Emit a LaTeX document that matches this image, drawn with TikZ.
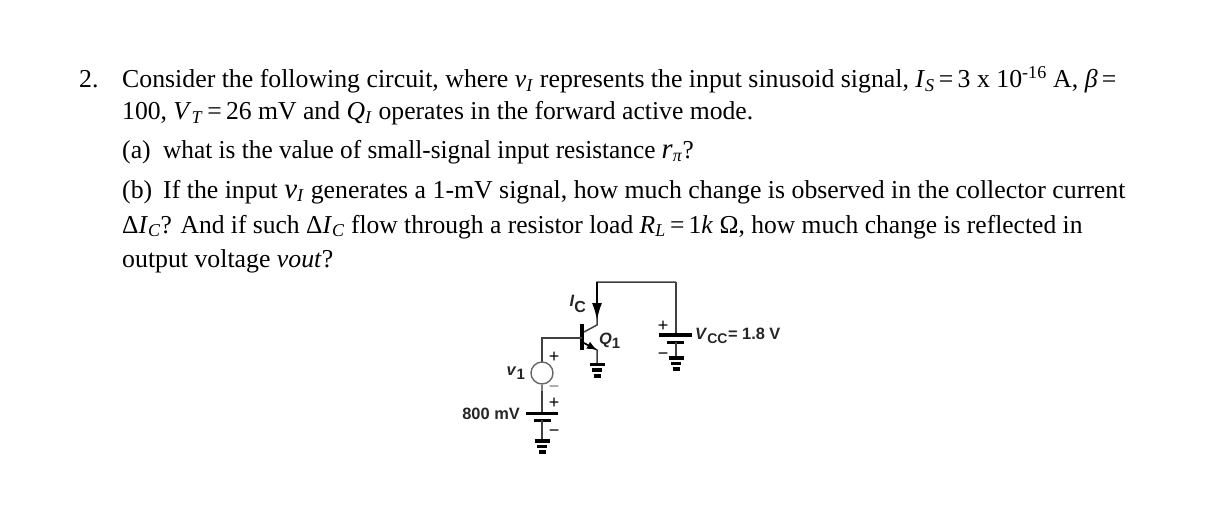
\documentclass[tikz,border=0pt]{standalone}
\usepackage{fontspec}
\setmainfont{Liberation Serif}
\setsansfont{Liberation Sans}
\usetikzlibrary{arrows.meta}
\newcommand{\sbi}[1]{\textsubscript{\textit{#1}}}
\tikzset{
  txt/.style={anchor=base west,inner sep=0pt,font=\fontsize{25.8}{30}\selectfont},
  lbl/.style={inner sep=0pt,font=\sffamily\bfseries\fontsize{16.4}{18}\selectfont,text=black!85},
  sgn/.style={inner sep=0pt,font=\sffamily\fontsize{18}{18}\selectfont},
  wire/.style={line width=1.5pt,black!75},
  plate/.style={line width=3.4pt,black},
  thinplate/.style={line width=3pt,black},
  tip/.style={-{Latex[length=17pt,width=10pt]}},
  groundsym/.pic={
    \draw[line width=3.3pt] (-7.5,0) -- (7.5,0);
    \draw[line width=3.3pt] (-5,5.5) -- (5,5.5);
    \draw[line width=4pt] (-3.5,11) -- (3.5,11);
  }
}
\begin{document}
\begin{tikzpicture}[x=1pt,y=-1pt]
  \useasboundingbox[fill=white] (0,0) rectangle (1220,524);
  % problem text
  \node[txt] (num) at (79,88) {2.};
  \node[txt] (l1) at (122,88) {Consider the following circuit, where \textit{v}\sbi{I} represents the input sinusoid signal, \textit{I}\sbi{S}\,=\,3 x 10\textsuperscript{-16} A, \textit{β}\,=};
  \node[txt,xscale=0.994] (l2) at (122,120) {100, \textit{V}\sbi{T}\,=\,26 mV and \textit{Q}\sbi{I} operates in the forward active mode.};
  \node[txt] (a) at (122,158) {(a)};
  \node[txt,xscale=0.98] (l3) at (163,158) {what is the value of small-signal input resistance \textit{\fontsize{29}{30}\selectfont r}\textsubscript{\textit{π}}?};
  \node[txt] (b) at (122,198) {(b)};
  \node[txt] (l4) at (163,198) {If the input \textit{\fontsize{29}{30}\selectfont v}\sbi{I} generates a 1-mV signal, how much change is observed in the collector current};
  \node[txt,xscale=0.99] (l5) at (122,233) {Δ\textit{I}\sbi{C}? And if such Δ\textit{I}\sbi{C} flow through a resistor load \textit{R}\sbi{L}\,=\,1\textit{k} Ω, how much change is reflected in};
  \node[txt] (l6) at (122,267) {output voltage \textit{vout}?};

  % named points of the circuit
  \coordinate (top) at (597,282);
  \coordinate (vcc) at (676,282);
  \coordinate (coll) at (597,325);
  \coordinate (emit) at (597,350);
  \coordinate (base) at (582,338);
  \coordinate (bend) at (542,338);
  \coordinate (batv) at (676,335);
  \coordinate (batb) at (542,413.5);

  % transistor
  \draw[line width=3.4pt] (582,324) -- (582,350);
  \draw[wire] (vcc) -- (top) -- (coll) -- (584,332);
  \draw[tip,wire,black] (top) -- (597,320);
  \draw[wire] (584,343) -- (emit) -- (597,363);
  \draw[-{Latex[length=10pt,width=8pt]},wire,black] (584,343) -- (emit);
  \draw[wire] (base) -- (bend) -- (542,362);
  \pic at (597,364.5) {groundsym};

  % input source and bias
  \node[circle,draw=black!60,line width=1.4pt,minimum size=22pt,inner sep=0pt] (vin) at (542,373) {};
  \draw[wire,black!50] (vin.south) -- (542,391);
  \draw[wire] (542,391) -- (batb);
  \draw[plate] (526,413.5) -- (558,413.5);
  \draw[thinplate] (533.5,420) -- (551,420);
  \draw[wire] (542,420) -- (542,440);
  \pic at (542,441) {groundsym};

  % supply
  \draw[wire] (vcc) -- (batv);
  \draw[plate] (659,335) -- (692,335);
  \draw[thinplate] (667,342) -- (684,342);
  \draw[wire] (676,342) -- (676,357);
  \pic at (676,358) {groundsym};

  % labels
  \node[lbl] (ic) at (578,304) {\textit{I}\textsubscript{\fontsize{16}{18}\selectfont C}};
  \node[lbl] (q1) at (610,341) {\textit{Q}\textsubscript{\fontsize{15}{18}\selectfont 1}};
  \node[lbl] (v1) at (516,373) {\textit{v}\textsubscript{\fontsize{15}{18}\selectfont 1}};
  \node[lbl,anchor=east] (bias) at (520,414) {800 mV};
  \node[lbl,anchor=west] (vccl) at (695,336) {\textit{V}\textsubscript{\fontsize{14}{18}\selectfont CC}= 1.8 V};
  \node[sgn] (p1) at (554,357) {+};
  \node[sgn,black!50] (m1) at (554,389) {−};
  \node[sgn] (p2) at (554,403) {+};
  \node[sgn] (m2) at (554,433) {−};
  \node[sgn] (p3) at (663,326) {+};
  \node[sgn] (m3) at (663,356) {−};
\end{tikzpicture}
\end{document}
